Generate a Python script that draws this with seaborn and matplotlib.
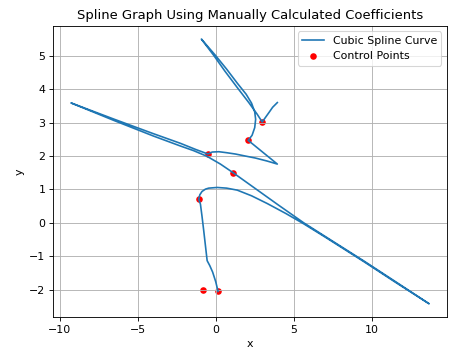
import matplotlib
matplotlib.use("Agg")
import matplotlib.pyplot as plt
import seaborn as sns

# Control points
ctrl_x = [2.98, 2.08, -0.49, 1.12, -1.09, -0.81, 0.15]
ctrl_y = [3.02, 2.47, 2.06, 1.50, 0.71, -2.02, -2.05]

# Evaluated spline curve (traced, in drawing order)
curve_x = [
    0.15, 0.00, -0.20, -0.38, -0.55, -0.66, -0.77, -0.88, -0.98, -1.09,
    -1.02, -0.88, -0.66, -0.45, 0.09, 0.70, 1.38, 2.30, 3.30, 4.50, 5.65, 7.00, 9.50, 11.50, 13.68,
    11.50, 9.50, 7.00, 5.65, 4.00, 2.50, 1.12, 0.30, -0.55, -1.41, -2.26, -4.00, -6.50, -9.28,
    -6.50, -4.00, -2.26, -1.30, -0.49, -0.23, 0.20, 0.70, 1.27, 1.90, 2.55, 3.30, 3.95,
    2.08, 2.33, 2.50, 2.56, 2.50, 2.30, 1.95, 1.40, 0.70, -0.05, -0.92,
    -0.14, 0.59, 1.38, 2.12, 2.66, 2.98, 3.15, 3.41, 3.65, 3.95,
]
curve_y = [
    -2.05, -1.76, -1.47, -1.28, -1.13, -0.68, -0.23, 0.20, 0.56, 0.71,
    0.84, 0.94, 1.01, 1.04, 1.06, 1.04, 0.98, 0.81, 0.58, 0.28, -0.03, -0.42, -1.16, -1.77, -2.42,
    -1.75, -1.14, -0.40, 0.00, 0.54, 1.04, 1.50, 1.76, 1.99, 2.16, 2.30, 2.60, 3.06, 3.59,
    3.10, 2.67, 2.38, 2.20, 2.06, 2.12, 2.13, 2.10, 2.06, 2.00, 1.94, 1.85, 1.76,
    2.47, 2.62, 2.85, 3.10, 3.32, 3.58, 3.85, 4.17, 4.60, 5.03, 5.50,
    5.02, 4.54, 4.05, 3.60, 3.25, 3.02, 3.13, 3.30, 3.46, 3.60,
]

fig = plt.figure(figsize=(474 / 79, 359 / 79), dpi=79)
ax = fig.add_axes([0.112, 0.117, 0.831, 0.811])

sns.lineplot(x=curve_x, y=curve_y, sort=False, estimator=None, ax=ax,
             color="#1f77b4", linewidth=1.5, label="Cubic Spline Curve")
sns.scatterplot(x=ctrl_x, y=ctrl_y, ax=ax, color="red", s=36, linewidth=0,
                label="Control Points", zorder=1)

ax.set_title("Spline Graph Using Manually Calculated Coefficients", fontsize=12)
ax.set_xlabel("x")
ax.set_ylabel("y")
ax.grid(True)
ax.legend(loc="upper right")

fig.savefig("out.png", dpi=79)
